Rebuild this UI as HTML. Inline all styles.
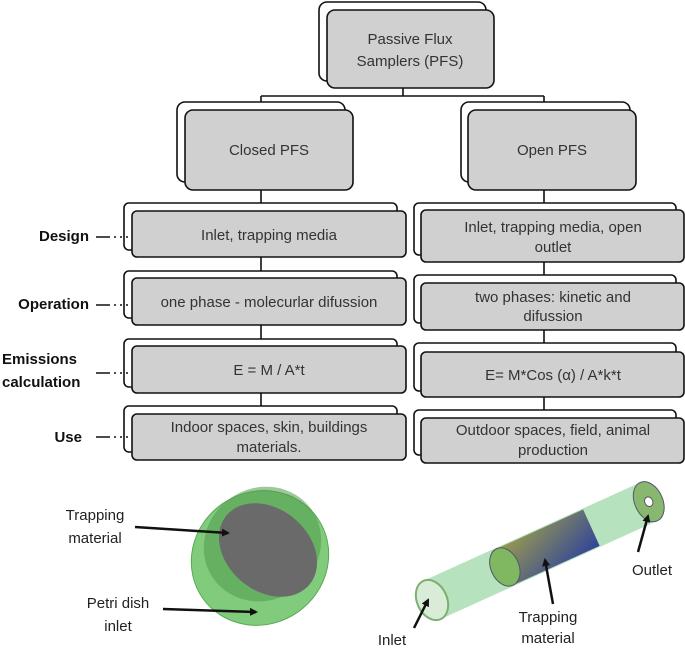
<!DOCTYPE html>
<html><head><meta charset="utf-8"><style>
body{margin:0;background:#fff;}
svg{display:block;font-family:"Liberation Sans",sans-serif;}
.b{fill:#fff;stroke:#111;stroke-width:1.6;}
.f{fill:#d0d0d0;stroke:#111;stroke-width:1.6;}
.t{font-size:15px;fill:#333;text-anchor:middle;}
.l{font-size:15px;font-weight:bold;fill:#111;}
.a{font-size:15px;fill:#222;text-anchor:middle;}
</style></head><body>
<svg width="685" height="649" viewBox="0 0 685 649">
<defs>
<marker id="ar" markerWidth="8" markerHeight="8" refX="6" refY="4" orient="auto" markerUnits="userSpaceOnUse"><path d="M0,0 L8,4 L0,8 z" fill="#111"/></marker>
<linearGradient id="tg" x1="0" y1="0" x2="1" y2="1"><stop offset="0" stop-color="#9a9a50"/><stop offset="1" stop-color="#30449a"/></linearGradient>
</defs>
<path d="M403 88V96M261 96H544M261 96V110M544 96V110M261 190V414M544 190V418" stroke="#111" stroke-width="1.6" fill="none"/>
<rect class="b" x="319" y="2" width="167" height="79" rx="8"/>
<rect class="f" x="327" y="10" width="167" height="78" rx="8"/>
<text class="t" x="410" y="44">Passive Flux</text><text class="t" x="410" y="66">Samplers (PFS)</text>
<rect class="b" x="177" y="102" width="168" height="80" rx="8"/>
<rect class="f" x="185" y="110" width="168" height="80" rx="8"/>
<text class="t" x="269" y="155">Closed PFS</text>
<rect class="b" x="461" y="102" width="169" height="80" rx="8"/>
<rect class="f" x="468" y="110" width="168" height="80" rx="8"/>
<text class="t" x="552" y="155">Open PFS</text>
<rect class="b" x="124" y="203" width="273" height="47" rx="5"/><rect class="f" x="132" y="211" width="274" height="46" rx="5"/>
<text class="t" x="269" y="240">Inlet, trapping media</text>
<rect class="b" x="124" y="271" width="273" height="47" rx="5"/><rect class="f" x="132" y="278" width="274" height="47" rx="5"/>
<text class="t" x="269" y="307">one phase - molecurlar difussion</text>
<rect class="b" x="124" y="339" width="273" height="48" rx="5"/><rect class="f" x="132" y="346" width="274" height="47" rx="5"/>
<text class="t" x="269" y="375">E = M / A*t</text>
<rect class="b" x="124" y="406" width="273" height="46" rx="5"/><rect class="f" x="132" y="414" width="274" height="46" rx="5"/>
<text class="t" x="269" y="432">Indoor spaces, skin, buildings</text><text class="t" x="269" y="452">materials.</text>
<rect class="b" x="414" y="203" width="262" height="52" rx="5"/><rect class="f" x="421" y="210" width="263" height="52" rx="5"/>
<text class="t" x="553" y="232">Inlet, trapping media, open</text><text class="t" x="553" y="252">outlet</text>
<rect class="b" x="414" y="275" width="262" height="48" rx="5"/><rect class="f" x="421" y="283" width="263" height="47" rx="5"/>
<text class="t" x="553" y="302">two phases: kinetic and</text><text class="t" x="553" y="321">difussion</text>
<rect class="b" x="414" y="343" width="262" height="48" rx="5"/><rect class="f" x="421" y="352" width="263" height="45" rx="5"/>
<text class="t" x="553" y="380">E= M*Cos (α) / A*k*t</text>
<rect class="b" x="414" y="410" width="262" height="45" rx="5"/><rect class="f" x="421" y="418" width="263" height="45" rx="5"/>
<text class="t" x="553" y="435">Outdoor spaces, field, animal</text><text class="t" x="553" y="455">production</text>
<text class="l" x="89" y="241" text-anchor="end">Design</text>
<text class="l" x="89" y="309" text-anchor="end">Operation</text>
<text class="l" x="2" y="364">Emissions</text><text class="l" x="2" y="387">calculation</text>
<text class="l" x="82" y="442" text-anchor="end">Use</text>
<g stroke="#111" stroke-width="1.5">
<path d="M96 237H110M96 305H110M96 373H110M96 437H110"/>
<path d="M114 237H132M114 305H132M114 373H132M114 437H132" stroke-dasharray="2 4"/>
</g>
<!-- petri dish -->
<g transform="translate(260,558) rotate(-35)">
<ellipse cx="0" cy="0" rx="70" ry="66" fill="#80cc7c" stroke="#5aa856" stroke-width="1"/>
<ellipse cx="10" cy="-10" rx="60" ry="56" fill="#4f9a4a" opacity="0.55"/>
</g>
<ellipse cx="268" cy="550" rx="54" ry="41" transform="rotate(40 268 550)" fill="#6a6a6a"/>
<text class="a" x="95" y="520">Trapping</text><text class="a" x="95" y="543">material</text>
<line x1="135" y1="527" x2="228" y2="533" stroke="#111" stroke-width="2.5" marker-end="url(#ar)"/>
<text class="a" x="118" y="608">Petri dish</text><text class="a" x="118" y="631">inlet</text>
<line x1="163" y1="609" x2="256" y2="612" stroke="#111" stroke-width="2.5" marker-end="url(#ar)"/>
<!-- tube -->
<g transform="translate(432,600) rotate(-24.4)">
<rect x="0" y="-21" width="238" height="42" fill="#9ed8a8" opacity="0.75"/>
<rect x="80" y="-20" width="95" height="40" fill="url(#tg)"/>
<ellipse cx="80" cy="0" rx="14" ry="20" fill="#7fb860" stroke="#556" stroke-width="1"/>
<ellipse cx="238" cy="0" rx="14" ry="21" fill="#88b870" stroke="#556" stroke-width="1"/>
<ellipse cx="238" cy="0" rx="4" ry="5" fill="#fff" stroke="#556" stroke-width="1"/>
<ellipse cx="0" cy="0" rx="15" ry="21" fill="#d8ecd8" stroke="#7ab070" stroke-width="2"/>
</g>
<text class="a" x="392" y="645">Inlet</text>
<line x1="414" y1="628" x2="428" y2="600" stroke="#111" stroke-width="2.5" marker-end="url(#ar)"/>
<text class="a" x="548" y="622">Trapping</text><text class="a" x="548" y="643">material</text>
<line x1="553" y1="604" x2="545" y2="560" stroke="#111" stroke-width="2.5" marker-end="url(#ar)"/>
<text class="a" x="652" y="575">Outlet</text>
<line x1="638" y1="552" x2="648" y2="516" stroke="#111" stroke-width="2.5" marker-end="url(#ar)"/>
</svg>
</body></html>
